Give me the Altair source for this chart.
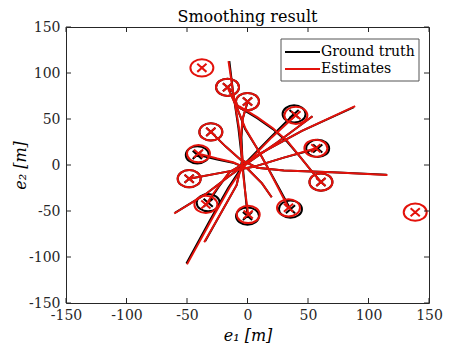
import altair as alt
import pandas as pd

# ---- data ----
est_tracks = {
    "E1": [(-15.7, 113), (-12, 80), (-7, 40), (-4, 5), (-9, -22), (-21, -50), (-35.8, -84)],
    "E2": [(-16.5, 84.5), (-8, 60), (-1.5, 39), (8, 18), (16, -1), (25, -24), (33.9, -46.5)],
    "E3": [(0, 69), (-4, 50), (-5.5, 30), (-4.5, 0), (-2, -28), (0.6, -53.8)],
    "E4": [(-7, 64), (8, 52), (21, 40), (33, 26), (44, 8), (52, -5), (60.7, -18.5)],
    "E5": [(40, 54), (20, 30), (0, 3), (-5, -5), (-15, -25), (-30, -60), (-50, -108)],
    "E6": [(53.7, 53), (25, 25), (0, 2), (-15, -12), (-35, -32), (-60.6, -52.7)],
    "E7": [(89, 64), (45, 37), (10, 12), (-5, 0), (-15, -8), (-25, -25), (-34.4, -42.9)],
    "E8": [(-30.3, 36), (-18, 20), (-6, 6), (8, -3), (30, -6), (70, -8), (115.7, -11)],
    "E9": [(56.5, 18.2), (30, 8), (5, -2), (-20, -8), (-48.2, -14.9)],
    "E10": [(-40.5, 12.4), (-25, 7), (-12, 3), (0, -4), (12, -20), (20, -35)],
}
gt_tracks = {
    "G1": [(-15, 113), (-12, 80), (-7.5, 40), (-4.5, 5), (-9, -22), (-21, -50), (-35, -83)],
    "G2": [(-16, 84), (-8, 60), (-2, 39), (8, 18), (16, -1), (26, -25), (35.5, -48)],
    "G3": [(0, 68), (-4, 50), (-5, 30), (-4, 0), (-2, -28), (0, -55.5)],
    "G4": [(-7, 63), (8, 51), (21, 39), (33, 25), (44, 8), (52, -5), (60.7, -18.5)],
    "G5": [(38.5, 55.5), (19, 30), (-1, 3), (-6, -5), (-16, -25), (-31, -60), (-50.5, -107)],
    "G6": [(53.7, 53), (25, 25), (0, 2), (-15, -12), (-35, -32), (-60, -52)],
    "G7": [(88, 63), (45, 37), (10, 12), (-5, 0), (-15, -8), (-24, -24), (-32.5, -41)],
    "G8": [(-30.3, 36), (-18, 20), (-6, 6), (8, -3), (30, -6), (70, -8), (115, -10.5)],
    "G9": [(58, 18), (30, 8), (5, -2), (-20, -8), (-48.2, -14.9)],
    "G10": [(-41.5, 11), (-25, 6), (-12, 2.5), (0, -4), (12, -20), (20, -35)],
}
est_marker_x = [-37.7, -16.5, 0, 40, -30.3, -40.5, 56.5, -48.2, 60.7, -34.4, 0.6, 33.9, 138.6]
est_marker_y = [105.6, 84.5, 69, 54, 36, 12.4, 18.2, -14.9, -18.5, -42.9, -53.8, -46.5, -51.3]
gt_marker_x = [-16.5, 0, 38.5, -30.3, -41.5, 58, -48.2, 60.7, -32.5, 0, 35.5]
gt_marker_y = [84.5, 69, 55.5, 36, 11, 18, -14.9, -18.5, -41, -55.5, -48]
tick_values = [-150, -100, -50, 0, 50, 100, 150]
series_names = ["Ground truth", "Estimates"]
series_colors = ["#000000", "#e3120b"]

W, H = 363, 276
SERIF = "DejaVu Serif"
FRAME = "#262626"


def tracks_df(tracks, kind):
    rows = []
    for name, pts in tracks.items():
        for i, (x, y) in enumerate(pts):
            rows.append({"traj": name, "idx": i, "x": x, "y": y, "type": kind})
    return pd.DataFrame(rows)


gt_df = tracks_df(gt_tracks, series_names[0])
est_df = tracks_df(est_tracks, series_names[1])
gt_mk = pd.DataFrame({"x": gt_marker_x, "y": gt_marker_y})
est_mk = pd.DataFrame({"x": est_marker_x, "y": est_marker_y})
ticks_df = pd.DataFrame({"v": tick_values})

xscale = alt.Scale(domain=[-150, 150], nice=False, zero=False)
yscale = alt.Scale(domain=[-150, 150], nice=False, zero=False)
color = alt.Color("type:N", scale=alt.Scale(domain=series_names, range=series_colors), legend=None)

xax = alt.X("x:Q", scale=xscale, axis=alt.Axis(values=tick_values, title="e₁  [m]",
                                               labelExpr="'' + datum.value"))
yax = alt.Y("y:Q", scale=yscale, axis=alt.Axis(values=tick_values, title="e₂  [m]",
                                               labelExpr="'' + datum.value",
                                               titleX=-38, titleY=H / 2))

gt_lines = alt.Chart(gt_df).mark_line(strokeWidth=2).encode(
    x=xax, y=yax, color=color, detail="traj:N", order="idx:Q"
)
est_lines = alt.Chart(est_df).mark_line(strokeWidth=2).encode(
    x=xax, y=yax, color=color, detail="traj:N", order="idx:Q"
)

marker_path = ("M -1 0 A 1 0.75 0 1 1 1 0 A 1 0.75 0 1 1 -1 0 Z "
               "M -0.4 -0.35 L 0.4 0.35 M -0.4 0.35 L 0.4 -0.35")

gt_points = alt.Chart(gt_mk).mark_point(
    shape=marker_path, size=529, filled=False, strokeWidth=2, color=series_colors[0], opacity=1
).encode(x=alt.X("x:Q", scale=xscale), y=alt.Y("y:Q", scale=yscale))
est_points = alt.Chart(est_mk).mark_point(
    shape=marker_path, size=529, filled=False, strokeWidth=2, color=series_colors[1], opacity=1
).encode(x=alt.X("x:Q", scale=xscale), y=alt.Y("y:Q", scale=yscale))

# inward ticks on all four sides (MATLAB box style)
bt = alt.Chart(ticks_df).mark_rule(color=FRAME, strokeWidth=1).encode(
    x=alt.X("v:Q", scale=xscale), y=alt.value(H), y2=alt.value(H - 5))
tt = alt.Chart(ticks_df).mark_rule(color=FRAME, strokeWidth=1).encode(
    x=alt.X("v:Q", scale=xscale), y=alt.value(0), y2=alt.value(5))
lt = alt.Chart(ticks_df).mark_rule(color=FRAME, strokeWidth=1).encode(
    y=alt.Y("v:Q", scale=yscale), x=alt.value(0), x2=alt.value(5))
rt = alt.Chart(ticks_df).mark_rule(color=FRAME, strokeWidth=1).encode(
    y=alt.Y("v:Q", scale=yscale), x=alt.value(W), x2=alt.value(W - 5))

# legend box (top right, inside the axes)
one = pd.DataFrame({"a": [0]})
leg_box = alt.Chart(one).mark_rect(fill="white", stroke="#555555", strokeWidth=1).encode(
    x=alt.value(215), x2=alt.value(353), y=alt.value(12), y2=alt.value(54))
leg_layers = [leg_box]
for i, (nm, col) in enumerate(zip(series_names, series_colors)):
    ypos = 25 + i * 17
    row = pd.DataFrame({"t": [nm]})
    leg_layers.append(alt.Chart(row).mark_rule(color=col, strokeWidth=2).encode(
        x=alt.value(219), x2=alt.value(254), y=alt.value(ypos)))
    leg_layers.append(alt.Chart(row).mark_text(
        align="left", baseline="middle", font=SERIF, fontSize=14, color="#000000"
    ).encode(text="t:N", x=alt.value(255), y=alt.value(ypos)))

chart = (
    alt.layer(gt_lines, gt_points, est_lines, est_points, bt, tt, lt, rt, *leg_layers)
    .properties(
        width=W,
        height=H,
        title=alt.Title("Smoothing result", font=SERIF, fontSize=16, frame="group",
                        anchor="middle", fontWeight="normal", color="#000000",
                        offset=7, dy=12),
        autosize=alt.AutoSizeParams(type="none"),
        padding={"left": 58, "top": 19, "right": 37, "bottom": 44},
    )
    .configure_view(stroke=FRAME, strokeWidth=1)
    .configure_axis(
        domain=False,
        ticks=False,
        grid=False,
        labelFont=SERIF,
        labelFontSize=14,
        labelColor="#262626",
        titleFont=SERIF,
        titleFontSize=16,
        titleFontWeight="normal",
        titleFontStyle="italic",
        titleColor="#000000",
    )
    .configure_axisX(labelPadding=5, titlePadding=5, labelFlush=False)
    .configure_axisY(labelPadding=6, labelFlush=False)
)

chart.save("out.html", embed_options={"renderer": "svg", "actions": False})
